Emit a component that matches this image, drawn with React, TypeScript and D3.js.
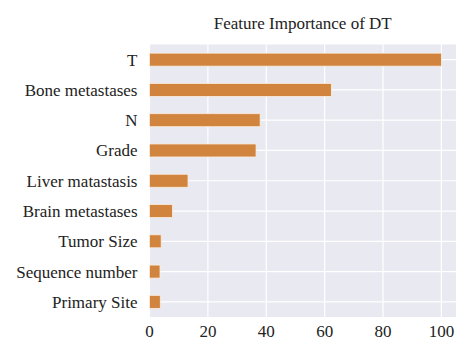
import React from "react";
import * as d3 from "d3";

const features = [
  "T",
  "Bone metastases",
  "N",
  "Grade",
  "Liver matastasis",
  "Brain metastases",
  "Tumor Size",
  "Sequence number",
  "Primary Site"
];
const importance = [100, 62.3, 37.9, 36.5, 13.2, 7.9, 4.0, 3.6, 3.7];
const xTicks = [0, 20, 40, 60, 80, 100];

const width = 474,
  height = 353;
const plot = { left: 149.5, right: 456, top: 44.5, bottom: 317 };
const font = "'Liberation Serif', 'DejaVu Serif', serif";
const fontSize = 17;
const barColor = "#d0843d";

export default function App() {
  const x = d3.scaleLinear().domain([0, 105]).range([plot.left, plot.right]);
  const y = d3
    .scaleBand()
    .domain(features)
    .range([plot.top, plot.bottom])
    .paddingInner(0.57)
    .paddingOuter(0.285);

  return (
    <svg
      width={width}
      height={height}
      style={{ position: "absolute", left: 0, top: 0, background: "#fff" }}
    >
      <rect
        x={plot.left}
        y={plot.top}
        width={plot.right - plot.left}
        height={plot.bottom - plot.top}
        fill="#e9e9f1"
      />
      {xTicks.map(t => (
        <line
          key={"gx" + t}
          x1={x(t)}
          x2={x(t)}
          y1={plot.top}
          y2={plot.bottom}
          stroke="#fff"
          strokeWidth={1.2}
        />
      ))}
      {features.map(f => (
        <line
          key={"gy" + f}
          x1={plot.left}
          x2={plot.right}
          y1={(y(f) as number) + y.bandwidth() / 2}
          y2={(y(f) as number) + y.bandwidth() / 2}
          stroke="#fff"
          strokeWidth={1.2}
        />
      ))}
      {features.map((f, i) => (
        <rect
          key={"b" + f}
          x={x(0)}
          y={y(f)}
          width={x(importance[i]) - x(0)}
          height={y.bandwidth()}
          fill={barColor}
          stroke="#fbeee0"
          strokeWidth={0.8}
        />
      ))}
      {features.map(f => (
        <text
          key={"l" + f}
          x={plot.left - 12}
          y={(y(f) as number) + y.bandwidth() / 2}
          dy="0.35em"
          textAnchor="end"
          fontFamily={font}
          fontSize={fontSize}
          fill="#222"
        >
          {f}
        </text>
      ))}
      {xTicks.map(t => (
        <text
          key={"tx" + t}
          x={x(t)}
          y={plot.bottom + 8}
          dy="0.71em"
          textAnchor="middle"
          fontFamily={font}
          fontSize={fontSize}
          fill="#222"
        >
          {t}
        </text>
      ))}
      <text
        x={(plot.left + plot.right) / 2}
        y={29}
        textAnchor="middle"
        fontFamily={font}
        fontSize={fontSize}
        fill="#222"
      >
        Feature Importance of DT
      </text>
    </svg>
  );
}
